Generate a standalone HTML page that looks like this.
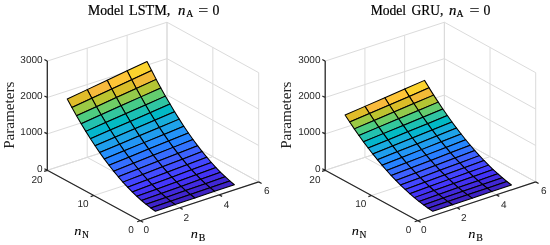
<!DOCTYPE html>
<html><head><meta charset="utf-8"><title>Model parameters</title>
<style>html,body{margin:0;padding:0;background:#fff}svg{display:block}</style></head>
<body>
<svg width="550" height="245" viewBox="0 0 550 245">
<rect width="550" height="245" fill="#fff"/>
<path d="M47.30,170.31 L167.00,131.47 M167.00,131.47 L258.70,181.89 M47.30,133.91 L167.00,95.06 M167.00,95.06 L258.70,145.48 M47.30,97.50 L167.00,58.65 M167.00,58.65 L258.70,109.07 M47.30,61.09 L167.00,22.24 M167.00,22.24 L258.70,72.67 M47.30,170.31 L47.30,61.09 M47.30,170.31 L140.30,220.74 M87.20,157.37 L87.20,48.14 M87.20,157.37 L179.77,207.79 M127.10,144.41 L127.10,35.19 M127.10,144.41 L219.23,194.84 M167.00,131.47 L167.00,22.24 M167.00,131.47 L258.70,181.89 M258.70,181.89 L258.70,72.67 M140.30,220.74 L258.70,181.89 M212.85,156.68 L212.85,47.45 M93.80,195.53 L212.85,156.68 M167.00,131.47 L167.00,22.24 M47.30,170.31 L167.00,131.47" stroke="#dbdbdb" stroke-width="1" fill="none"/>
<g stroke="#000" stroke-width="1.05" stroke-linejoin="round">
<polygon points="131.71,79.80 151.64,70.56 147.05,61.45 127.10,70.83" fill="#fbd32e"/>
<polygon points="111.77,89.04 131.71,79.80 127.10,70.83 107.15,80.22" fill="#fec537"/>
<polygon points="91.83,98.28 111.77,89.04 107.15,80.22 87.20,89.61" fill="#f8ba3d"/>
<polygon points="71.89,107.53 91.83,98.28 87.20,89.61 67.25,99.00" fill="#e0bc2a"/>
<polygon points="136.31,88.47 156.24,79.38 151.64,70.56 131.71,79.80" fill="#f1ba37"/>
<polygon points="116.38,97.57 136.31,88.47 131.71,79.80 111.77,89.04" fill="#d9bd28"/>
<polygon points="96.46,106.67 116.38,97.57 111.77,89.04 91.83,98.28" fill="#bcc42f"/>
<polygon points="76.53,115.76 96.46,106.67 91.83,98.28 71.89,107.53" fill="#9bc945"/>
<polygon points="140.92,96.86 160.84,87.91 156.24,79.38 136.31,88.47" fill="#b3c534"/>
<polygon points="121.00,105.81 140.92,96.86 136.31,88.47 116.38,97.57" fill="#93ca4b"/>
<polygon points="101.08,114.76 121.00,105.81 116.38,97.57 96.46,106.67" fill="#6fcd66"/>
<polygon points="81.17,123.71 101.08,114.76 96.46,106.67 76.53,115.76" fill="#4ecc81"/>
<polygon points="145.53,104.95 165.43,96.14 160.84,87.91 140.92,96.86" fill="#64cd6f"/>
<polygon points="125.62,113.75 145.53,104.95 140.92,96.86 121.00,105.81" fill="#46cb88"/>
<polygon points="105.71,122.56 125.62,113.75 121.00,105.81 101.08,114.76" fill="#33c69d"/>
<polygon points="85.81,131.36 105.71,122.56 101.08,114.76 81.17,123.71" fill="#23c1af"/>
<polygon points="150.13,112.75 170.03,104.09 165.43,96.14 145.53,104.95" fill="#2fc5a3"/>
<polygon points="130.24,121.41 150.13,112.75 145.53,104.95 125.62,113.75" fill="#1bc0b4"/>
<polygon points="110.34,130.07 130.24,121.41 125.62,113.75 105.71,122.56" fill="#03bbc3"/>
<polygon points="90.45,138.73 110.34,130.07 105.71,122.56 85.81,131.36" fill="#04b6cd"/>
<polygon points="154.74,120.26 174.62,111.74 170.03,104.09 150.13,112.75" fill="#01b9c6"/>
<polygon points="134.85,128.77 154.74,120.26 150.13,112.75 130.24,121.41" fill="#07b5cf"/>
<polygon points="114.97,137.29 134.85,128.77 130.24,121.41 110.34,130.07" fill="#13b0d8"/>
<polygon points="95.08,145.80 114.97,137.29 110.34,130.07 90.45,138.73" fill="#19abe0"/>
<polygon points="159.35,127.48 179.22,119.11 174.62,111.74 154.74,120.26" fill="#17aedb"/>
<polygon points="139.47,135.84 159.35,127.48 154.74,120.26 134.85,128.77" fill="#1ba9e2"/>
<polygon points="119.60,144.21 139.47,135.84 134.85,128.77 114.97,137.29" fill="#1da4e7"/>
<polygon points="99.72,152.58 119.60,144.21 114.97,137.29 95.08,145.80" fill="#1f9eed"/>
<polygon points="163.95,134.40 183.81,126.18 179.22,119.11 159.35,127.48" fill="#1fa2e9"/>
<polygon points="144.09,142.63 163.95,134.40 159.35,127.48 139.47,135.84" fill="#209cef"/>
<polygon points="124.23,150.85 144.09,142.63 139.47,135.84 119.60,144.21" fill="#2296f6"/>
<polygon points="104.36,159.07 124.23,150.85 119.60,144.21 99.72,152.58" fill="#2490fd"/>
<polygon points="168.56,141.04 188.41,132.96 183.81,126.18 163.95,134.40" fill="#2393f9"/>
<polygon points="148.71,149.11 168.56,141.04 163.95,134.40 144.09,142.63" fill="#258eff"/>
<polygon points="128.85,157.19 148.71,149.11 144.09,142.63 124.23,150.85" fill="#2587ff"/>
<polygon points="109.00,165.27 128.85,157.19 124.23,150.85 104.36,159.07" fill="#2681ff"/>
<polygon points="173.17,147.38 193.01,139.45 188.41,132.96 168.56,141.04" fill="#2584ff"/>
<polygon points="153.32,155.31 173.17,147.38 168.56,141.04 148.71,149.11" fill="#287eff"/>
<polygon points="133.48,163.24 153.32,155.31 148.71,149.11 128.85,157.19" fill="#2e77ff"/>
<polygon points="113.64,171.18 133.48,163.24 128.85,157.19 109.00,165.27" fill="#356fff"/>
<polygon points="177.77,153.43 197.60,145.65 193.01,139.45 173.17,147.38" fill="#3273ff"/>
<polygon points="157.94,161.22 177.77,153.43 173.17,147.38 153.32,155.31" fill="#376cff"/>
<polygon points="138.11,169.01 157.94,161.22 153.32,155.31 133.48,163.24" fill="#3b66ff"/>
<polygon points="118.28,176.79 138.11,169.01 133.48,163.24 113.64,171.18" fill="#3e60ff"/>
<polygon points="182.38,159.20 202.20,151.56 197.60,145.65 177.77,153.43" fill="#3d62ff"/>
<polygon points="162.56,166.84 182.38,159.20 177.77,153.43 157.94,161.22" fill="#3f5dff"/>
<polygon points="142.74,174.48 162.56,166.84 157.94,161.22 138.11,169.01" fill="#4057ff"/>
<polygon points="122.92,182.12 142.74,174.48 138.11,169.01 118.28,176.79" fill="#4152ff"/>
<polygon points="186.99,164.67 206.79,157.17 202.20,151.56 182.38,159.20" fill="#4154ff"/>
<polygon points="167.18,172.16 186.99,164.67 182.38,159.20 162.56,166.84" fill="#424fff"/>
<polygon points="147.37,179.66 167.18,172.16 162.56,166.84 142.74,174.48" fill="#434bff"/>
<polygon points="127.56,187.15 147.37,179.66 142.74,174.48 122.92,182.12" fill="#4346ff"/>
<polygon points="191.59,169.85 211.39,162.50 206.79,157.17 186.99,164.67" fill="#4347ff"/>
<polygon points="171.79,177.19 191.59,169.85 186.99,164.67 167.18,172.16" fill="#4343ff"/>
<polygon points="152.00,184.54 171.79,177.19 167.18,172.16 147.37,179.66" fill="#443fff"/>
<polygon points="132.20,191.89 152.00,184.54 147.37,179.66 127.56,187.15" fill="#443cff"/>
<polygon points="196.20,174.73 215.99,167.53 211.39,162.50 191.59,169.85" fill="#443cff"/>
<polygon points="176.41,181.94 196.20,174.73 191.59,169.85 171.79,177.19" fill="#4439ff"/>
<polygon points="156.62,189.14 176.41,181.94 171.79,177.19 152.00,184.54" fill="#4436fb"/>
<polygon points="136.84,196.34 156.62,189.14 152.00,184.54 132.20,191.89" fill="#4333f5"/>
<polygon points="200.81,179.33 220.58,172.27 215.99,167.53 196.20,174.73" fill="#4333f5"/>
<polygon points="181.03,186.39 200.81,179.33 196.20,174.73 176.41,181.94" fill="#4331f0"/>
<polygon points="161.25,193.45 181.03,186.39 176.41,181.94 156.62,189.14" fill="#432feb"/>
<polygon points="141.48,200.50 161.25,193.45 156.62,189.14 136.84,196.34" fill="#422de6"/>
<polygon points="205.41,183.64 225.18,176.72 220.58,172.27 200.81,179.33" fill="#422ce4"/>
<polygon points="185.65,190.55 205.41,183.64 200.81,179.33 181.03,186.39" fill="#422be0"/>
<polygon points="165.88,197.46 185.65,190.55 181.03,186.39 161.25,193.45" fill="#412adb"/>
<polygon points="146.12,204.37 165.88,197.46 161.25,193.45 141.48,200.50" fill="#4128d7"/>
<polygon points="210.02,187.65 229.77,180.88 225.18,176.72 205.41,183.64" fill="#4027d4"/>
<polygon points="190.26,194.42 210.02,187.65 205.41,183.64 185.65,190.55" fill="#4026d1"/>
<polygon points="170.51,201.18 190.26,194.42 185.65,190.55 165.88,197.46" fill="#4025ce"/>
<polygon points="150.75,207.95 170.51,201.18 165.88,197.46 146.12,204.37" fill="#3f24cb"/>
<polygon points="214.63,191.37 234.37,184.75 229.77,180.88 210.02,187.65" fill="#3f23c6"/>
<polygon points="194.88,197.99 214.63,191.37 210.02,187.65 190.26,194.42" fill="#3f23c5"/>
<polygon points="175.14,204.61 194.88,197.99 190.26,194.42 170.51,201.18" fill="#3e22c3"/>
<polygon points="155.39,211.23 175.14,204.61 170.51,201.18 150.75,207.95" fill="#3e22c2"/>
</g>
<path d="M47.30,170.31 L47.30,61.09 M47.30,170.31 L140.30,220.74 M140.30,220.74 L258.70,181.89 M47.30,170.31 L44.40,168.74 M47.30,133.91 L44.40,132.33 M47.30,97.50 L44.40,95.93 M47.30,61.09 L44.40,59.52 M140.30,220.74 L137.16,221.77 M93.80,195.53 L90.66,196.56 M47.30,170.31 L44.16,171.34 M140.30,220.74 L143.20,222.31 M179.77,207.79 L182.67,209.36 M219.23,194.84 L222.13,196.41 M258.70,181.89 L261.60,183.46" stroke="#262626" stroke-width="1.25" fill="none" stroke-linecap="butt"/>
<g font-family="'Liberation Sans',sans-serif" font-size="10" fill="#262626" text-rendering="geometricPrecision"><text x="42.6" y="171.7" text-anchor="end">0</text>
<text x="42.6" y="135.3" text-anchor="end">1000</text>
<text x="42.6" y="98.9" text-anchor="end">2000</text>
<text x="42.6" y="62.5" text-anchor="end">3000</text>
<text x="131.0" y="232.7" text-anchor="middle">0</text>
<text x="83.1" y="207.3" text-anchor="middle">10</text>
<text x="37.0" y="183.0" text-anchor="middle">20</text>
<text x="146.2" y="233.0" text-anchor="middle">0</text>
<text x="186.4" y="221.2" text-anchor="middle">2</text>
<text x="226.6" y="207.5" text-anchor="middle">4</text>
<text x="266.7" y="194.4" text-anchor="middle">6</text></g>
<g font-family="'Liberation Serif',serif" fill="#000" stroke="#000" stroke-width="0.2">
<text transform="translate(13.6,148.8) rotate(-90)" stroke="none" fill="#222" font-size="13.7" textLength="67.2" lengthAdjust="spacingAndGlyphs">Parameters</text>
<text x="74.2" y="234.6" stroke-width="0.05" font-size="13.5" font-style="italic" textLength="7.2" lengthAdjust="spacingAndGlyphs">n</text>
<text x="82.0" y="238.4" stroke-width="0.15" font-size="9.8" textLength="6.9" lengthAdjust="spacingAndGlyphs">N</text>
<text x="190.8" y="238.4" stroke-width="0.05" font-size="13.5" font-style="italic" textLength="7.2" lengthAdjust="spacingAndGlyphs">n</text>
<text x="198.8" y="240.7" stroke-width="0.15" font-size="9.8" textLength="6.6" lengthAdjust="spacingAndGlyphs">B</text>
<text x="88" y="14.9" font-size="14.3" textLength="35.8" lengthAdjust="spacingAndGlyphs">Model</text><text x="129" y="14.9" font-size="14.3" textLength="41.4" lengthAdjust="spacingAndGlyphs">LSTM,</text><text x="178" y="14.9" font-size="14.3" font-style="italic" textLength="7.4" lengthAdjust="spacingAndGlyphs">n</text><text x="186.2" y="17.3" font-size="10" textLength="7" lengthAdjust="spacingAndGlyphs">A</text><text x="198.2" y="14.9" font-size="14.3" textLength="10" lengthAdjust="spacingAndGlyphs">=</text><text x="212.4" y="14.9" font-size="14.3" textLength="6.9" lengthAdjust="spacingAndGlyphs">0</text>
</g>
<path d="M325.20,170.31 L444.38,131.47 M444.38,131.47 L535.69,181.89 M325.20,133.91 L444.38,95.06 M444.38,95.06 L535.69,145.48 M325.20,97.50 L444.38,58.65 M444.38,58.65 L535.69,109.07 M325.20,61.09 L444.38,22.24 M444.38,22.24 L535.69,72.67 M325.20,170.31 L325.20,61.09 M325.20,170.31 L417.80,220.74 M364.93,157.37 L364.93,48.14 M364.93,157.37 L457.10,207.79 M404.66,144.41 L404.66,35.19 M404.66,144.41 L496.39,194.84 M444.38,131.47 L444.38,22.24 M444.38,131.47 L535.69,181.89 M535.69,181.89 L535.69,72.67 M417.80,220.74 L535.69,181.89 M490.04,156.68 L490.04,47.45 M371.50,195.53 L490.04,156.68 M444.38,131.47 L444.38,22.24 M325.20,170.31 L444.38,131.47" stroke="#dbdbdb" stroke-width="1" fill="none"/>
<g stroke="#000" stroke-width="1.05" stroke-linejoin="round">
<polygon points="409.24,96.40 429.10,87.85 424.52,80.38 404.66,89.04" fill="#fbd32e"/>
<polygon points="389.39,104.95 409.24,96.40 404.66,89.04 384.79,97.70" fill="#fec537"/>
<polygon points="369.54,113.50 389.39,104.95 384.79,97.70 364.93,106.36" fill="#f8ba3d"/>
<polygon points="349.68,122.05 369.54,113.50 364.93,106.36 345.06,115.02" fill="#e0bc2a"/>
<polygon points="413.83,103.55 433.67,95.11 429.10,87.85 409.24,96.40" fill="#f2ba37"/>
<polygon points="393.99,111.99 413.83,103.55 409.24,96.40 389.39,104.95" fill="#dabd28"/>
<polygon points="374.14,120.43 393.99,111.99 389.39,104.95 369.54,113.50" fill="#bdc32f"/>
<polygon points="354.30,128.87 374.14,120.43 369.54,113.50 349.68,122.05" fill="#9bc944"/>
<polygon points="418.42,110.47 438.25,102.14 433.67,95.11 413.83,103.55" fill="#b3c534"/>
<polygon points="398.58,118.81 418.42,110.47 413.83,103.55 393.99,111.99" fill="#93ca4b"/>
<polygon points="378.75,127.14 398.58,118.81 393.99,111.99 374.14,120.43" fill="#70cd65"/>
<polygon points="358.92,135.47 378.75,127.14 374.14,120.43 354.30,128.87" fill="#4ecc81"/>
<polygon points="423.00,117.18 442.82,108.96 438.25,102.14 418.42,110.47" fill="#65cd6e"/>
<polygon points="403.18,125.40 423.00,117.18 418.42,110.47 398.58,118.81" fill="#47cb87"/>
<polygon points="383.36,133.63 403.18,125.40 398.58,118.81 378.75,127.14" fill="#33c79d"/>
<polygon points="363.54,141.85 383.36,133.63 378.75,127.14 358.92,135.47" fill="#23c1af"/>
<polygon points="427.59,123.67 447.40,115.56 442.82,108.96 423.00,117.18" fill="#2fc5a3"/>
<polygon points="407.78,131.78 427.59,123.67 423.00,117.18 403.18,125.40" fill="#1cc0b3"/>
<polygon points="387.97,139.90 407.78,131.78 403.18,125.40 383.36,133.63" fill="#03bbc3"/>
<polygon points="368.16,148.01 387.97,139.90 383.36,133.63 363.54,141.85" fill="#04b6cc"/>
<polygon points="432.18,129.94 451.98,121.94 447.40,115.56 427.59,123.67" fill="#01b9c6"/>
<polygon points="412.38,137.95 432.18,129.94 427.59,123.67 407.78,131.78" fill="#06b5cf"/>
<polygon points="392.58,145.95 412.38,137.95 407.78,131.78 387.97,139.90" fill="#13b0d7"/>
<polygon points="372.78,153.95 392.58,145.95 387.97,139.90 368.16,148.01" fill="#19abdf"/>
<polygon points="436.76,136.00 456.55,128.10 451.98,121.94 432.18,129.94" fill="#16aeda"/>
<polygon points="416.98,143.89 436.76,136.00 432.18,129.94 412.38,137.95" fill="#1aaae2"/>
<polygon points="397.19,151.79 416.98,143.89 412.38,137.95 392.58,145.95" fill="#1da4e7"/>
<polygon points="377.40,159.68 397.19,151.79 392.58,145.95 372.78,153.95" fill="#1f9eed"/>
<polygon points="441.35,141.83 461.13,134.04 456.55,128.10 436.76,136.00" fill="#1ea2e9"/>
<polygon points="421.57,149.62 441.35,141.83 436.76,136.00 416.98,143.89" fill="#209cef"/>
<polygon points="401.80,157.40 421.57,149.62 416.98,143.89 397.19,151.79" fill="#2296f5"/>
<polygon points="382.02,165.19 401.80,157.40 397.19,151.79 377.40,159.68" fill="#2490fd"/>
<polygon points="445.94,147.45 465.70,139.77 461.13,134.04 441.35,141.83" fill="#2394f8"/>
<polygon points="426.17,155.12 445.94,147.45 441.35,141.83 421.57,149.62" fill="#258eff"/>
<polygon points="406.40,162.80 426.17,155.12 421.57,149.62 401.80,157.40" fill="#2588ff"/>
<polygon points="386.64,170.48 406.40,162.80 401.80,157.40 382.02,165.19" fill="#2681ff"/>
<polygon points="450.52,152.84 470.28,145.28 465.70,139.77 445.94,147.45" fill="#2585ff"/>
<polygon points="430.77,160.41 450.52,152.84 445.94,147.45 426.17,155.12" fill="#287eff"/>
<polygon points="411.01,167.98 430.77,160.41 426.17,155.12 406.40,162.80" fill="#2e77ff"/>
<polygon points="391.26,175.55 411.01,167.98 406.40,162.80 386.64,170.48" fill="#3570ff"/>
<polygon points="455.11,158.02 474.86,150.56 470.28,145.28 450.52,152.84" fill="#3173ff"/>
<polygon points="435.37,165.48 455.11,158.02 450.52,152.84 430.77,160.41" fill="#376dff"/>
<polygon points="415.62,172.94 435.37,165.48 430.77,160.41 411.01,167.98" fill="#3b66ff"/>
<polygon points="395.88,180.40 415.62,172.94 411.01,167.98 391.26,175.55" fill="#3e60ff"/>
<polygon points="459.70,162.98 479.43,155.63 474.86,150.56 455.11,158.02" fill="#3d62ff"/>
<polygon points="439.96,170.33 459.70,162.98 455.11,158.02 435.37,165.48" fill="#3e5dff"/>
<polygon points="420.23,177.68 439.96,170.33 435.37,165.48 415.62,172.94" fill="#4057ff"/>
<polygon points="400.49,185.03 420.23,177.68 415.62,172.94 395.88,180.40" fill="#4152ff"/>
<polygon points="464.28,167.73 484.01,160.49 479.43,155.63 459.70,162.98" fill="#4154ff"/>
<polygon points="444.56,174.96 464.28,167.73 459.70,162.98 439.96,170.33" fill="#424fff"/>
<polygon points="424.84,182.20 444.56,174.96 439.96,170.33 420.23,177.68" fill="#434bff"/>
<polygon points="405.11,189.44 424.84,182.20 420.23,177.68 400.49,185.03" fill="#4346ff"/>
<polygon points="468.87,172.25 488.58,165.12 484.01,160.49 464.28,167.73" fill="#4347ff"/>
<polygon points="449.16,179.38 468.87,172.25 464.28,167.73 444.56,174.96" fill="#4344ff"/>
<polygon points="429.45,186.51 449.16,179.38 444.56,174.96 424.84,182.20" fill="#4440ff"/>
<polygon points="409.73,193.64 429.45,186.51 424.84,182.20 405.11,189.44" fill="#443cff"/>
<polygon points="473.46,176.55 493.16,169.53 488.58,165.12 468.87,172.25" fill="#443cff"/>
<polygon points="453.76,183.58 473.46,176.55 468.87,172.25 449.16,179.38" fill="#4439ff"/>
<polygon points="434.05,190.60 453.76,183.58 449.16,179.38 429.45,186.51" fill="#4436fb"/>
<polygon points="414.35,197.62 434.05,190.60 429.45,186.51 409.73,193.64" fill="#4333f6"/>
<polygon points="478.05,180.64 497.74,173.73 493.16,169.53 473.46,176.55" fill="#4333f5"/>
<polygon points="458.35,187.55 478.05,180.64 473.46,176.55 453.76,183.58" fill="#4331f0"/>
<polygon points="438.66,194.46 458.35,187.55 453.76,183.58 434.05,190.60" fill="#432feb"/>
<polygon points="418.97,201.38 438.66,194.46 434.05,190.60 414.35,197.62" fill="#422de6"/>
<polygon points="482.63,184.51 502.31,177.71 497.74,173.73 478.05,180.64" fill="#422ce4"/>
<polygon points="462.95,191.31 482.63,184.51 478.05,180.64 458.35,187.55" fill="#422be0"/>
<polygon points="443.27,198.11 462.95,191.31 458.35,187.55 438.66,194.46" fill="#412adb"/>
<polygon points="423.59,204.92 443.27,198.11 438.66,194.46 418.97,201.38" fill="#4128d7"/>
<polygon points="487.22,188.16 506.89,181.47 502.31,177.71 482.63,184.51" fill="#4027d4"/>
<polygon points="467.55,194.85 487.22,188.16 482.63,184.51 462.95,191.31" fill="#4026d1"/>
<polygon points="447.88,201.55 467.55,194.85 462.95,191.31 443.27,198.11" fill="#4025ce"/>
<polygon points="428.21,208.24 447.88,201.55 443.27,198.11 423.59,204.92" fill="#3f24cb"/>
<polygon points="491.81,191.59 511.46,185.01 506.89,181.47 487.22,188.16" fill="#3f23c6"/>
<polygon points="472.15,198.17 491.81,191.59 487.22,188.16 467.55,194.85" fill="#3f23c5"/>
<polygon points="452.49,204.76 472.15,198.17 467.55,194.85 447.88,201.55" fill="#3e22c3"/>
<polygon points="432.83,211.34 452.49,204.76 447.88,201.55 428.21,208.24" fill="#3e22c2"/>
</g>
<path d="M325.20,170.31 L325.20,61.09 M325.20,170.31 L417.80,220.74 M417.80,220.74 L535.69,181.89 M325.20,170.31 L322.30,168.74 M325.20,133.91 L322.30,132.33 M325.20,97.50 L322.30,95.93 M325.20,61.09 L322.30,59.52 M417.80,220.74 L414.66,221.77 M371.50,195.53 L368.36,196.56 M325.20,170.31 L322.06,171.34 M417.80,220.74 L420.70,222.31 M457.10,207.79 L460.00,209.36 M496.39,194.84 L499.29,196.41 M535.69,181.89 L538.59,183.46" stroke="#262626" stroke-width="1.25" fill="none" stroke-linecap="butt"/>
<g font-family="'Liberation Sans',sans-serif" font-size="10" fill="#262626" text-rendering="geometricPrecision"><text x="320.5" y="171.7" text-anchor="end">0</text>
<text x="320.5" y="135.3" text-anchor="end">1000</text>
<text x="320.5" y="98.9" text-anchor="end">2000</text>
<text x="320.5" y="62.5" text-anchor="end">3000</text>
<text x="408.5" y="232.7" text-anchor="middle">0</text>
<text x="360.8" y="207.3" text-anchor="middle">10</text>
<text x="314.9" y="183.0" text-anchor="middle">20</text>
<text x="423.7" y="233.0" text-anchor="middle">0</text>
<text x="463.7" y="221.2" text-anchor="middle">2</text>
<text x="503.8" y="207.5" text-anchor="middle">4</text>
<text x="543.7" y="194.4" text-anchor="middle">6</text></g>
<g font-family="'Liberation Serif',serif" fill="#000" stroke="#000" stroke-width="0.2">
<text transform="translate(291.1,148.8) rotate(-90)" stroke="none" fill="#222" font-size="13.7" textLength="67.2" lengthAdjust="spacingAndGlyphs">Parameters</text>
<text x="351.7" y="234.6" stroke-width="0.05" font-size="13.5" font-style="italic" textLength="7.2" lengthAdjust="spacingAndGlyphs">n</text>
<text x="359.5" y="238.4" stroke-width="0.15" font-size="9.8" textLength="6.9" lengthAdjust="spacingAndGlyphs">N</text>
<text x="468.3" y="238.4" stroke-width="0.05" font-size="13.5" font-style="italic" textLength="7.2" lengthAdjust="spacingAndGlyphs">n</text>
<text x="476.3" y="240.7" stroke-width="0.15" font-size="9.8" textLength="6.6" lengthAdjust="spacingAndGlyphs">B</text>
<text x="370.7" y="14.9" font-size="14.3" textLength="35.4" lengthAdjust="spacingAndGlyphs">Model</text><text x="411.6" y="14.9" font-size="14.3" textLength="31.8" lengthAdjust="spacingAndGlyphs">GRU,</text><text x="449" y="14.9" font-size="14.3" font-style="italic" textLength="7.4" lengthAdjust="spacingAndGlyphs">n</text><text x="456.6" y="17.3" font-size="10" textLength="7" lengthAdjust="spacingAndGlyphs">A</text><text x="469.5" y="14.9" font-size="14.3" textLength="10" lengthAdjust="spacingAndGlyphs">=</text><text x="483.6" y="14.9" font-size="14.3" textLength="6.9" lengthAdjust="spacingAndGlyphs">0</text>
</g>
</svg>
</body></html>
